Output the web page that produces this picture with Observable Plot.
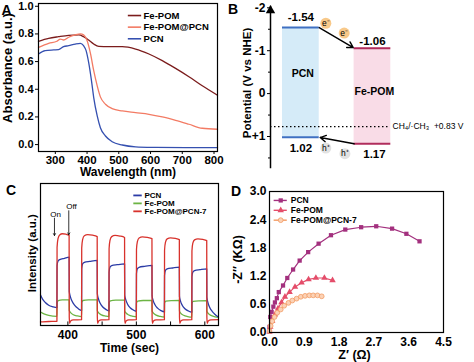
<!DOCTYPE html>
<html><head><meta charset="utf-8">
<script src="https://cdn.jsdelivr.net/npm/d3@7"></script>
<script src="https://cdn.jsdelivr.net/npm/@observablehq/plot@0.6"></script>
<style>
body{margin:0;background:#fff;}
#fig{position:relative;width:474px;height:362px;overflow:hidden;font-family:"Liberation Sans",Arial,Helvetica,sans-serif;}
#fig svg{position:absolute;overflow:visible;}
.lbl{position:absolute;font-weight:bold;font-size:14px;line-height:1;}
</style></head><body><div id="fig"></div>
<script>
// ---------- Panel A: absorbance ----------
const seriesA = ["Fe-POM", "Fe-POM@PCN", "PCN"];
const colorsA = ["#7b1c1c", "#f37b64", "#3550b0"];
const fePomWl = [247, 279, 310, 342, 374, 389, 405, 421, 437, 468, 511, 553, 595, 637, 679, 721, 763, 811];
const fePomAbs = [0.747, 0.768, 0.780, 0.790, 0.793, 0.780, 0.756, 0.727, 0.710, 0.708, 0.708, 0.691, 0.655, 0.607, 0.551, 0.491, 0.425, 0.357];
const compWl = [247, 279, 305, 316, 326, 342, 363, 379, 389, 400, 411, 421, 432, 442, 458, 479, 511, 553, 595, 637, 679, 721, 763, 811];
const compAbs = [0.703, 0.732, 0.747, 0.763, 0.756, 0.776, 0.793, 0.800, 0.793, 0.752, 0.655, 0.534, 0.425, 0.345, 0.292, 0.260, 0.243, 0.231, 0.219, 0.200, 0.175, 0.147, 0.118, 0.111];
const pcnWl = [247, 268, 295, 310, 326, 342, 363, 379, 389, 397, 405, 414, 421, 432, 442, 458, 479, 511, 553, 616, 711, 811];
const pcnAbs = [0.655, 0.679, 0.684, 0.686, 0.708, 0.715, 0.727, 0.732, 0.715, 0.679, 0.594, 0.461, 0.340, 0.207, 0.122, 0.062, 0.021, -0.003, -0.016, -0.020, -0.022, -0.022];
const wlTicks = [300, 400, 500, 600, 700, 800];
const absTicks = [0, 0.2, 0.4, 0.6, 0.8, 1.0];

// ---------- Panel B: band positions ----------
const materials = ["PCN", "Fe-POM"];
const cbVals = [-1.54, -1.06];
const vbVals = [1.02, 1.17];
const redoxDrawn = 0.77;
const redoxLabel = "CH\u2084/\u00B7CH\u2083  +0.83 V";
const potTicks = [-2, -1, 0, 1];
const potMinor = [-1.5, -0.5, 0.5, 1.5];
const boxFill = ["#d5ebf8", "#f9dce7"];
const edgeColor = ["#3f70c2", "#b02c5c"];

// ---------- Panel C: photocurrent ----------
const seriesC = ["PCN", "Fe-POM", "Fe-POM@PCN-7"];
const colorsC = ["#2b3ba6", "#6cb444", "#d8322c"];
const pcnC = [
[360,21.5],[363,18.6],[367,16.2],[372,14.3],[378,13.2],[384,12.6],
[384.2,42],[385.5,45.2],[388,46.4],[395,47.3],[401.8,48.1],
[402,24],[403.5,20.5],[406,17.2],[410,14.2],[415,11.9],[420,10.6],
[420.2,39.8],[421.5,43.4],[424,44.4],[432,45.1],[442.8,45.8],
[443,22.5],[444.5,19],[447,15.8],[451,13],[456,11.2],[460,10.3],
[460.2,37.5],[461.5,41.1],[464,42.1],[472,42.8],[482.8,43.4],
[483,21.5],[484.5,18.2],[487,15.2],[491,12.5],[496,10.8],[500,10],
[500.2,36.5],[501.5,40],[504,41],[512,41.7],[522.8,42.3],
[523,21],[524.5,17.7],[527,14.8],[531,12.2],[536,10.5],[541,9.7],
[541.2,35.3],[542.5,38.8],[545,39.8],[553,40.5],[562.8,41.1],
[563,20.5],[564.5,17.2],[567,14.3],[571,11.8],[576,10.2],[581,9.4],
[581.2,34.2],[582.5,37.6],[585,38.6],[593,39.3],[602.8,39.9],
[603,20],[604.5,16.3],[607,12.8],[611,9.8],[615,7.8],[620,6]
];
const fePomC = [
[360,9.5],[365,8.2],[372,7.1],[384,6.4],
[384.2,16.2],[386,17.6],[392,18],[401.8,18.1],
[402,10.6],[404,9.1],[408,7.6],[414,6.7],[420,6.3],
[420.2,16.1],[422,17.6],[430,18],[442.8,18.1],
[443,10.4],[445,8.9],[449,7.5],[455,6.6],[460,6.2],
[460.2,16],[462,17.4],[470,17.8],[482.8,17.9],
[483,10.3],[485,8.8],[489,7.4],[495,6.5],[500,6.1],
[500.2,15.9],[502,17.2],[510,17.6],[522.8,17.7],
[523,10.2],[525,8.7],[529,7.3],[535,6.4],[541,6],
[541.2,15.8],[543,17.1],[551,17.5],[562.8,17.6],
[563,10.1],[565,8.6],[569,7.2],[575,6.3],[581,5.9],
[581.2,15.7],[583,17],[591,17.4],[602.8,17.5],
[603,10],[605,8.5],[609,7.1],[615,6.1],[620,5.8]
];
const compC = [
[360,2.5],[372,2.8],[384,3],
[384.2,55],[385.5,61],[388,63.8],[392,64.6],[397,64.3],[401.8,63.4],
[402,6],[402.5,1.5],[404,3.2],[408,3.9],[420,4.1],
[420.2,54.5],[421.5,60.5],[424,63.2],[429,64],[436,63.6],[442.8,62.6],
[443,6],[443.5,1.5],[445,3.2],[449,3.9],[460,4.1],
[460.2,54],[461.5,60],[464,62.6],[469,63.4],[476,63],[482.8,62],
[483,6],[483.5,1.5],[485,3.2],[489,3.9],[500,4.1],
[500.2,53.5],[501.5,59],[504,61.6],[509,62.4],[516,62],[522.8,61.2],
[523,6],[523.5,1.5],[525,3.2],[529,3.9],[541,4.1],
[541.2,53],[542.5,58.5],[545,61],[550,61.7],[557,61.3],[562.8,60.5],
[563,6],[563.5,1.5],[565,3.2],[569,3.9],[581,4.1],
[581.2,52.5],[582.5,58],[585,60.3],[590,61],[597,60.6],[602.8,59.8],
[603,6],[603.5,1.5],[605,3.2],[609,3.9],[620,4.1]
];
const timeTicks = [400, 500, 600];
const timeMinor = [400, 450, 500, 550, 600];

// ---------- Panel D: Nyquist ----------
const seriesD = ["PCN", "Fe-POM", "Fe-POM@PCN-7"];
const colorsD = ["#a3307e", "#e44d6a", "#f39a62"];
const symbolsD = ["square", "triangle", "circle"];
const pcnRe = [0.0, 0.0, 0.02, 0.055, 0.10, 0.14, 0.19, 0.24, 0.35, 0.46, 0.61, 0.78, 1.0, 1.27, 1.59, 1.96, 2.37, 2.76, 3.17, 3.54, 3.88];
const pcnIm = [0.02, 0.12, 0.33, 0.44, 0.55, 0.64, 0.73, 0.86, 1.0, 1.16, 1.34, 1.53, 1.71, 1.89, 2.07, 2.19, 2.24, 2.26, 2.21, 2.10, 1.94];
const fePomRe = [0.0, 0.02, 0.07, 0.14, 0.22, 0.31, 0.40, 0.52, 0.66, 0.83, 1.01, 1.20, 1.42, 1.63];
const fePomIm = [0.02, 0.12, 0.24, 0.38, 0.51, 0.64, 0.76, 0.86, 0.97, 1.06, 1.13, 1.16, 1.16, 1.11];
const compRe = [0.0, 0.03, 0.07, 0.13, 0.20, 0.29, 0.38, 0.49, 0.59, 0.70, 0.81, 0.92, 1.03, 1.13, 1.24, 1.35];
const compIm = [0.03, 0.14, 0.24, 0.33, 0.42, 0.49, 0.57, 0.63, 0.68, 0.72, 0.76, 0.78, 0.79, 0.79, 0.79, 0.77];
const zReTicks = [0, 0.9, 1.8, 2.7, 3.6, 4.5];
const zImTicks = [0, 0.6, 1.2, 1.8, 2.4, 3.0];

// ---------- common ----------
const fig = document.getElementById("fig");
const fontFam = "'Liberation Sans', Arial, Helvetica, sans-serif";
const baseStyle = {fontFamily: fontFam, fontSize: "12px", fontWeight: "bold", color: "black", background: "transparent", overflow: "visible"};
function place(svg, left, top) { svg.style.left = left + "px"; svg.style.top = top + "px"; fig.appendChild(svg); }
const f1 = d3.format(".1f");
const mid = {textAnchor: "middle", lineAnchor: "middle"};

// Panel A
const dataA = [[fePomWl, fePomAbs], [compWl, compAbs], [pcnWl, pcnAbs]];
const A = Plot.plot({
  width: 237, height: 181, marginLeft: 38, marginRight: 20, marginTop: 3, marginBottom: 30,
  style: baseStyle,
  x: {domain: [247, 811]},
  y: {domain: [-0.05, 1.02]},
  marks: [
    Plot.axisX({ticks: wlTicks, tickSize: 3, tickPadding: 1.5, fontSize: 11.5, label: null}),
    Plot.axisY({ticks: absTicks, tickSize: 3, tickPadding: 2, tickFormat: f1, fontSize: 11, label: null}),
    ...dataA.map(([wl, ab], i) => Plot.lineY(ab, {x: wl, stroke: colorsA[i], strokeWidth: 1.3, curve: "monotone-x"})),
    Plot.frame({strokeWidth: 1.2}),
    ...seriesA.flatMap((name, i) => [
      Plot.ruleY([0.933 - i * 0.084], {x1: 530, x2: 572, stroke: colorsA[i], strokeWidth: 1.6}),
      Plot.text([name], {x: 578, y: 0.933 - i * 0.084, textAnchor: "start", fontSize: 9.5})
    ]),
    Plot.text(["Absorbance (a.u.)"], {frameAnchor: "left", dx: -31, dy: -9.5, rotate: -90, fontSize: 13, ...mid}),
    Plot.text(["Wavelength (nm)"], {frameAnchor: "bottom", dy: 20.5, fontSize: 12, ...mid})
  ]
});
place(A, 0, 0);

// Panel B
const B = Plot.plot({
  width: 237, height: 181, marginLeft: 33, marginRight: 85, marginTop: 6, marginBottom: 14,
  style: baseStyle,
  x: {domain: [0, 2.95], range: [45, 153.3], axis: null},
  y: {domain: [-2, 1], range: [7.3, 136]},
  marks: [
    ...materials.flatMap((m, i) => [
      Plot.rect([m], {x1: i * 1.95, x2: i * 1.95 + 1, y1: cbVals[i], y2: vbVals[i], fill: boxFill[i]}),
      Plot.ruleY([cbVals[i], vbVals[i]], {x1: i * 1.95, x2: i * 1.95 + 1, stroke: edgeColor[i], strokeWidth: 2}),
      Plot.text([cbVals[i]], {x: i * 1.95 + 0.5, y: cbVals[i], dy: i === 0 ? -10.5 : -6.5, text: d => d.toFixed(2), fontSize: 11.5}),
      Plot.text([vbVals[i]], {x: i * 1.95 + 0.5, y: vbVals[i], dy: 10.5, dx: i === 0 ? 0 : 2, text: d => d.toFixed(2), fontSize: 11.5}),
      Plot.text([m], {x: i * 1.95 + 0.5, y: (cbVals[i] + vbVals[i]) / 2, dx: 2, dy: i === 0 ? -9 : -4, fontSize: 10.5})
    ]),
    Plot.ruleY([redoxDrawn], {strokeDasharray: "1.5 2.5", strokeWidth: 1.2}),
    Plot.text([redoxLabel], {frameAnchor: "right", y: redoxDrawn, dx: 3, textAnchor: "start", lineAnchor: "middle", fontSize: 8.5, fontWeight: "normal"}),
    Plot.arrow([0], {x1: 1, y1: cbVals[0], x2: 1.95, y2: cbVals[1], stroke: "black", strokeWidth: 1.4, headLength: 7, insetEnd: 1}),
    Plot.arrow([0], {x1: 1.95, y1: vbVals[1], x2: 1, y2: vbVals[0], stroke: "black", strokeWidth: 1.4, headLength: 7, insetEnd: 1}),
    Plot.dot([0, 1], {x: [1.18, 1.68], y: [-1.64, -1.41], r: 5.5, fill: "#f8c98a"}),
    Plot.text(["e\u207B", "e\u207B"], {x: [1.18, 1.68], y: [-1.64, -1.41], fontSize: 8.5, fontWeight: "normal"}),
    Plot.dot([0, 1], {x: [1.18, 1.70], y: [1.27, 1.40], r: 5.5, fill: "#e2e2e2"}),
    Plot.text(["h\u207A", "h\u207A"], {x: [1.18, 1.70], y: [1.27, 1.40], fontSize: 8.5, fontWeight: "normal"}),
    Plot.axisY({ticks: potTicks, tickSize: 3, tickPadding: 2, tickFormat: d => d > 0 ? "+" + d : String(d), fontSize: 12, label: null}),
    Plot.axisY({ticks: potMinor, tickSize: 2, tickFormat: () => "", label: null}),
    Plot.frame({anchor: "left", strokeWidth: 1.5}),
    Plot.dot([0], {frameAnchor: "top-left", dy: 4, symbol: "triangle", r: 3.5, fill: "black"}),
    Plot.text(["Potential (V vs NHE)"], {frameAnchor: "left", dx: -23, dy: -4, rotate: -90, fontSize: 11.5, ...mid})
  ]
});
place(B, 237, 0);

// Panel C
const dataC = [fePomC, pcnC, compC];
const colorOrderC = [colorsC[1], colorsC[0], colorsC[2]];
const C = Plot.plot({
  width: 237, height: 181, marginLeft: 40, marginRight: 19, marginTop: 2, marginBottom: 37,
  style: baseStyle,
  x: {domain: [360, 620]},
  y: {domain: [0, 100], axis: null},
  marks: [
    Plot.axisX({ticks: timeTicks, tickSize: 0, tickPadding: 4.5, fontSize: 12, label: null}),
    Plot.ruleX(timeMinor, {y1: 0, y2: 2.5, strokeWidth: 1}),
    ...dataC.map((d, i) => Plot.line(d, {x: p => p[0], y: p => p[1], stroke: colorOrderC[i], strokeWidth: 1.3, curve: "monotone-x"})),
    Plot.frame({strokeWidth: 1.2}),
    Plot.arrow([0], {x1: 380.4, x2: 380.4, y1: 75.6, y2: 63.4, stroke: "black", strokeWidth: 0.8, headLength: 4}),
    Plot.arrow([0], {x1: 401.3, x2: 401.3, y1: 80.8, y2: 63.9, stroke: "black", strokeWidth: 0.8, headLength: 4}),
    Plot.text(["On"], {x: 381.9, y: 78.4, fontSize: 8, fontWeight: "normal"}),
    Plot.text(["Off"], {x: 405.3, y: 83.8, fontSize: 8, fontWeight: "normal"}),
    ...seriesC.flatMap((name, i) => [
      Plot.ruleY([91.6 - i * 5.6], {x1: 496.3, x2: 508.6, stroke: colorsC[i], strokeWidth: 1.8}),
      Plot.text([name], {x: 511.9, y: 91.6 - i * 5.6, textAnchor: "start", fontSize: 8})
    ]),
    Plot.text(["Intensity (a.u.)"], {frameAnchor: "left", dx: -8, dy: -1.3, rotate: -90, fontSize: 11.5, ...mid}),
    Plot.text(["Time (sec)"], {frameAnchor: "bottom", dy: 23, fontSize: 12, ...mid})
  ]
});
place(C, 0, 181);

// Panel D
const dataD = [[pcnRe, pcnIm], [fePomRe, fePomIm], [compRe, compIm]];
const dotFill = ["#a3307e", "#e44d6a", "#fbd2b6"];
const D = Plot.plot({
  width: 237, height: 181, marginLeft: 32, marginRight: 31, marginTop: 10, marginBottom: 30,
  style: baseStyle,
  x: {domain: [0, 4.5]},
  y: {domain: [0, 3]},
  marks: [
    Plot.axisX({ticks: zReTicks, tickSize: 0, tickPadding: 5, tickFormat: f1, fontSize: 12, label: null}),
    Plot.axisY({ticks: zImTicks, tickSize: 0, tickPadding: 3, tickFormat: f1, fontSize: 12, label: null}),
    ...dataD.flatMap(([re, im], i) => [
      Plot.lineY(im, {x: re, stroke: colorsD[i], strokeWidth: 1.2}),
      Plot.dot(im, {x: re, y: im, symbol: symbolsD[i], r: 2.4, fill: dotFill[i], stroke: i === 2 ? colorsD[2] : "none", strokeWidth: 0.8})
    ]),
    Plot.frame({strokeWidth: 1.2}),
    ...seriesD.flatMap((name, i) => [
      Plot.ruleY([2.81 - i * 0.21], {x1: 0.12, x2: 0.46, stroke: colorsD[i], strokeWidth: 1.4}),
      Plot.dot([0], {x: 0.29, y: 2.81 - i * 0.21, symbol: symbolsD[i], r: 2.4, fill: dotFill[i], stroke: i === 2 ? colorsD[2] : "none", strokeWidth: 0.8}),
      Plot.text([name], {x: 0.55, y: 2.81 - i * 0.21, textAnchor: "start", fontSize: 8.5})
    ]),
    Plot.text(["Z\u2032 (\u03A9)"], {frameAnchor: "bottom", dy: 22, dx: -2, fontSize: 12.5, ...mid}),
    Plot.text(["-Z\u2033 (K\u03A9)"], {frameAnchor: "left", dx: -31.5, dy: -2.5, rotate: -90, fontSize: 12.5, ...mid})
  ]
});
place(D, 237, 181);

// panel letters
[["A", 1.5, 3], ["B", 228, 1.5], ["C", 6, 183], ["D", 231, 184]].forEach(([t, l, tp]) => {
  const s = document.createElement("div");
  s.className = "lbl"; s.textContent = t; s.style.left = l + "px"; s.style.top = tp + "px";
  fig.appendChild(s);
});
</script></body></html>
